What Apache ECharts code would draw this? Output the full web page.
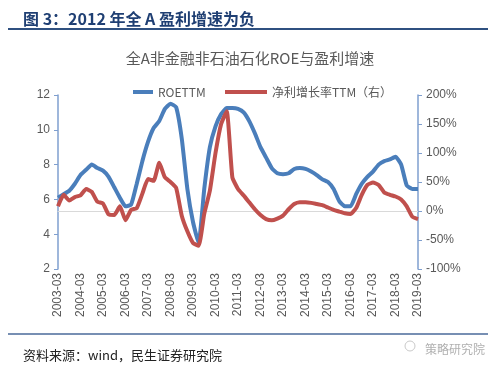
<!DOCTYPE html>
<html><head><meta charset="utf-8">
<script src="https://cdn.jsdelivr.net/npm/echarts@6/dist/echarts.min.js"></script>
<style>html,body{margin:0;padding:0;background:#fff}#c{width:500px;height:370px}</style>
</head><body><div id="c"></div>
<script>
const categories = [
'2003-03','2003-06','2003-09','2003-12','2004-03','2004-06','2004-09','2004-12',
'2005-03','2005-06','2005-09','2005-12','2006-03','2006-06','2006-09','2006-12',
'2007-03','2007-06','2007-09','2007-12','2008-03','2008-06','2008-09','2008-12',
'2009-03','2009-06','2009-09','2009-12','2010-03','2010-06','2010-09','2010-12',
'2011-03','2011-06','2011-09','2011-12','2012-03','2012-06','2012-09','2012-12',
'2013-03','2013-06','2013-09','2013-12','2014-03','2014-06','2014-09','2014-12',
'2015-03','2015-06','2015-09','2015-12','2016-03','2016-06','2016-09','2016-12',
'2017-03','2017-06','2017-09','2017-12','2018-03','2018-06','2018-09','2018-12',
'2019-03'];
const roeTTM = [
6.1,6.3,6.5,6.9,7.4,7.7,8.0,7.8,
7.65,7.3,6.7,6.1,5.6,5.7,6.9,8.2,
9.3,10.1,10.5,11.2,11.5,11.3,9.5,6.6,
4.7,3.5,6.6,9.0,10.2,10.9,11.25,11.25,
11.2,11.0,10.5,9.8,9.0,8.4,7.8,7.5,
7.45,7.5,7.75,7.8,7.75,7.6,7.4,7.15,
7.0,6.6,5.9,5.6,5.6,6.3,6.9,7.3,
7.6,8.0,8.2,8.3,8.45,8.0,6.8,6.6,
6.6];
const profitGrowth = [
8,28,18,24,27,38,33,16,
13,-6,-7,8,-16,2,5,30,
55,52,83,58,50,40,-8,-35,
-55,-60,-5,35,100,150,172,58,
38,27,15,3,-7,-14,-16,-13,
-8,3,12,15,15,14,12,10,
6,2,-1,-4,-5,5,28,45,
49,45,32,28,25,20,8,-10,
-14];
const leftTicks = {min:2, max:12, interval:2};
const rightTicks = {min:-100, max:200, interval:50};

const chart = echarts.init(document.getElementById('c'), null, {renderer:'canvas'});
const grey = '#595959';
const axisBlue = '#7f9fcf';
const blue = '#4a7ebb', red = '#c0504d';
chart.setOption({
  animation:false,
  textStyle:{fontFamily:'"Noto Sans CJK SC", sans-serif'},
  title:[
    {text:'全A非金融非石油石化ROE与盈利增速', left:'center', top:46,
     textStyle:{color:grey, fontSize:15, fontWeight:'normal', fontFamily:'"Noto Sans CJK SC"'}},
    {text:'图 3：2012 年全 A 盈利增速为负', left:18, top:6,
     textStyle:{color:'#1f3f73', fontSize:16, fontWeight:'bold', fontFamily:'"Noto Sans CJK SC"'}},
    {text:'资料来源：wind，民生证券研究院', left:18, top:344,
     textStyle:{color:'#222', fontSize:13, fontWeight:'normal', fontFamily:'"Noto Sans CJK SC"'}},
    {text:'策略研究院', left:420, top:338,
     textStyle:{color:'#b0b0b0', fontSize:12, fontWeight:'normal', fontFamily:'"Noto Sans CJK SC"'}}
  ],
  graphic:[
    {type:'line', shape:{x1:8,y1:29,x2:488,y2:29}, style:{stroke:'#2f5080', lineWidth:2}},
    {type:'line', shape:{x1:8,y1:334,x2:488,y2:334}, style:{stroke:'#4a6a9a', lineWidth:1.5}},
    {type:'circle', shape:{cx:410,cy:346,r:5}, style:{fill:'none', stroke:'#c8c8c8', lineWidth:1}}
  ],
  legend:[
    {data:['ROETTM'], left:128, top:81, itemWidth:20, itemHeight:4, icon:'rect', itemGap:4,
     textStyle:{color:grey, fontSize:12}},
    {data:['净利增长率TTM（右）'], left:220, top:81, itemWidth:42, itemHeight:4, icon:'rect',
     textStyle:{color:grey, fontSize:12}}
  ],
  grid:{left:58, right:82, top:95, bottom:101, containLabel:false},
  xAxis:{
    type:'category', data:categories, boundaryGap:false,
    axisLine:{lineStyle:{color:'#d9d9d9'}},
    axisTick:{show:false},
    axisLabel:{rotate:90, interval:3, color:grey, fontSize:12, margin:4, fontFamily:'"Liberation Sans", Arial'}
  },
  yAxis:[
    {type:'value', min:leftTicks.min, max:leftTicks.max, interval:leftTicks.interval,
     splitLine:{show:false},
     axisLine:{show:true, lineStyle:{color:axisBlue, width:1.5}},
     axisTick:{show:true, length:4, lineStyle:{color:axisBlue}},
     axisLabel:{color:grey, fontSize:12, margin:8, fontFamily:'"Liberation Sans", Arial'}},
    {type:'value', min:rightTicks.min, max:rightTicks.max, interval:rightTicks.interval,
     position:'right', splitLine:{show:false},
     axisLine:{show:true, lineStyle:{color:axisBlue, width:1.5}},
     axisTick:{show:true, length:4, lineStyle:{color:axisBlue}},
     axisLabel:{color:grey, fontSize:12, margin:8, formatter:'{value}%', fontFamily:'"Liberation Sans", Arial'}}
  ],
  series:[
    {name:'ROETTM', type:'line', data:roeTTM, yAxisIndex:0, showSymbol:false, smooth:0.15,
     lineStyle:{color:blue, width:4}, itemStyle:{color:blue}},
    {name:'净利增长率TTM（右）', type:'line', data:profitGrowth, yAxisIndex:1, showSymbol:false, smooth:0.15,
     lineStyle:{color:red, width:4}, itemStyle:{color:red}}
  ]
});
</script></body></html>
